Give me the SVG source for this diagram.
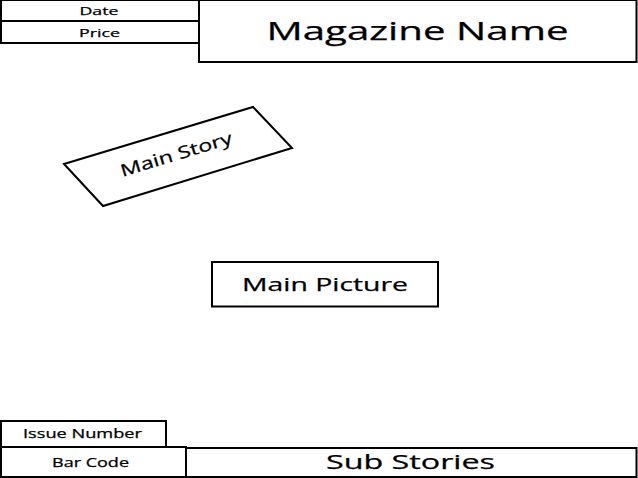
<svg xmlns="http://www.w3.org/2000/svg" width="638" height="478" viewBox="0 0 638 478">
<style>
.box{fill:#fff;stroke:#000;stroke-width:2}
.t{font-family:"Open Sans","Liberation Sans",sans-serif;fill:#000;stroke:#000;stroke-width:0.25;text-anchor:middle}
</style>
<rect width="638" height="478" fill="#fff"/>
<g id="date"><rect class="box" x="1" y="0" width="198" height="21"/><text class="t" x="99" y="14.5" font-size="11" textLength="39" lengthAdjust="spacingAndGlyphs">Date</text></g>
<g id="price"><rect class="box" x="1" y="21" width="198" height="22"/><text class="t" x="99.5" y="37" font-size="11" textLength="41" lengthAdjust="spacingAndGlyphs">Price</text></g>
<g id="magazine-name"><rect class="box" x="199" y="0" width="437.5" height="62"/><text class="t" x="417.5" y="40" font-size="25" textLength="302" lengthAdjust="spacingAndGlyphs">Magazine Name</text></g>
<g id="main-story"><polygon class="box" points="64,164 253,107 292,148 103,206"/><text class="t" transform="translate(178,160) rotate(-17)" x="0" y="0" font-size="17" textLength="116" lengthAdjust="spacingAndGlyphs">Main Story</text></g>
<g id="main-picture"><rect class="box" x="212" y="262" width="226" height="44.5"/><text class="t" x="325" y="291" font-size="18.5" textLength="166" lengthAdjust="spacingAndGlyphs">Main Picture</text></g>
<g id="issue-number"><rect class="box" x="1" y="421" width="165" height="26"/><text class="t" x="82.5" y="438" font-size="12.5" textLength="119" lengthAdjust="spacingAndGlyphs">Issue Number</text></g>
<g id="bar-code"><rect class="box" x="1" y="447" width="185" height="30"/><text class="t" x="90.5" y="467" font-size="12.5" textLength="77" lengthAdjust="spacingAndGlyphs">Bar Code</text></g>
<g id="sub-stories"><rect class="box" x="186" y="448" width="450.5" height="29"/><text class="t" x="410.5" y="469" font-size="20" textLength="169" lengthAdjust="spacingAndGlyphs">Sub Stories</text></g>
<g id="connectors"></g>
</svg>
